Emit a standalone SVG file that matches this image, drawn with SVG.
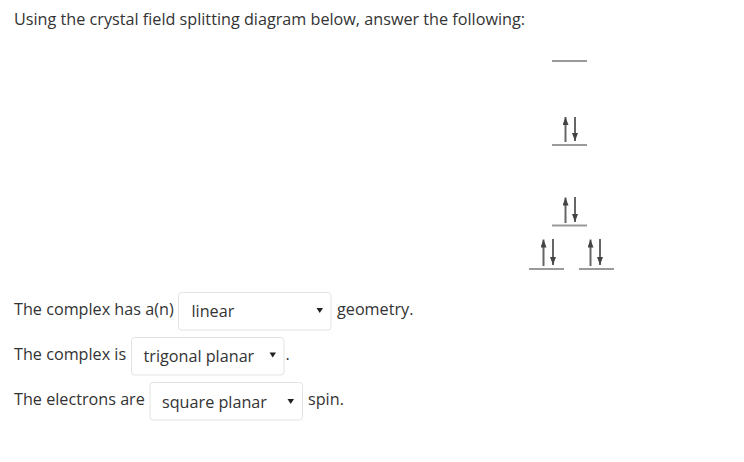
<svg xmlns="http://www.w3.org/2000/svg" width="744" height="462" viewBox="0 0 744 462">
<defs>
<style>
text{font-family:"Open Sans","Noto Sans","Liberation Sans",sans-serif;font-size:16.2px;fill:#333}
.lvl{stroke:#9a9a9a;stroke-width:2}
.e{stroke:#666;stroke-width:2;fill:none}
.sel{fill:#fff;stroke:#e3e3e3;stroke-width:1}
.tri{fill:#222}
</style>
<marker id="ah" viewBox="0 0 8 6" refX="8" refY="3" markerWidth="8" markerHeight="6" markerUnits="userSpaceOnUse" orient="auto">
<path d="M0,0 L8,3 L0,6 Z" fill="#444"/>
</marker>
</defs>
<rect width="744" height="462" fill="#fff"/>
<text x="14" y="25">Using the crystal field splitting diagram below, answer the following:</text>

<g id="splitting-diagram">
<g id="level-top"><line class="lvl" x1="552" y1="61" x2="587" y2="61"/></g>
<g id="level-2">
<line class="lvl" x1="552" y1="145" x2="587" y2="145"/>
<line class="e" x1="565.5" y1="142" x2="565.5" y2="117" marker-end="url(#ah)"/>
<line class="e" x1="575" y1="117" x2="575" y2="141" marker-end="url(#ah)"/>
</g>
<g id="level-3">
<line class="lvl" x1="552" y1="225.5" x2="587" y2="225.5"/>
<line class="e" x1="565.5" y1="223" x2="565.5" y2="197.5" marker-end="url(#ah)"/>
<line class="e" x1="575" y1="197" x2="575" y2="222" marker-end="url(#ah)"/>
</g>
<g id="level-4a">
<line class="lvl" x1="529" y1="269" x2="564" y2="269"/>
<line class="e" x1="543.5" y1="266" x2="543.5" y2="239.5" marker-end="url(#ah)"/>
<line class="e" x1="553" y1="239" x2="553" y2="265" marker-end="url(#ah)"/>
</g>
<g id="level-4b">
<line class="lvl" x1="579" y1="269" x2="614" y2="269"/>
<line class="e" x1="590.5" y1="266" x2="590.5" y2="239.5" marker-end="url(#ah)"/>
<line class="e" x1="600" y1="239" x2="600" y2="265" marker-end="url(#ah)"/>
</g>
</g>

<g id="row1">
<text x="14" y="315">The complex has a(n)</text>
<rect class="sel" x="178.5" y="292.5" width="152.5" height="37.5" rx="3"/>
<text x="191.5" y="317">linear</text>
<path class="tri" d="M316.5,308 L323,308 L319.75,313 Z"/>
<text x="337" y="314.5">geometry.</text>
</g>

<g id="row2">
<text x="14" y="360">The complex is</text>
<rect class="sel" x="131.5" y="337.5" width="152.5" height="37.5" rx="3"/>
<text x="143.5" y="361.5">trigonal planar</text>
<path class="tri" d="M269.5,352.5 L276,352.5 L272.75,357.5 Z"/>
<text x="285.5" y="360">.</text>
</g>

<g id="row3">
<text x="14" y="405">The electrons are</text>
<rect class="sel" x="150" y="382.5" width="152.5" height="37.5" rx="3"/>
<text x="162" y="408">square planar</text>
<path class="tri" d="M287.5,399 L294,399 L290.75,404 Z"/>
<text x="308" y="405">spin.</text>
</g>
</svg>
